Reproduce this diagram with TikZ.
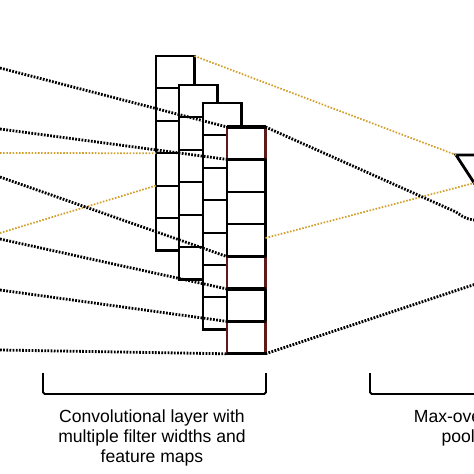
\documentclass[tikz,border=0pt]{standalone}
\usepackage{fontspec}
\setmainfont{Liberation Sans}
\usetikzlibrary{calc}
\definecolor{filtorange}{RGB}{210,160,45}
\definecolor{mapred}{RGB}{95,25,25}
\tikzset{
    cellbox/.style={draw=black, fill=white, line width=1.7pt},
    cellline/.style={black, line width=1.2pt},
    dotline/.style={black, line width=1.6pt, dash pattern=on 1pt off 0.8pt},
    orangeline/.style={filtorange, line width=1pt, dash pattern=on 0.9pt off 0.9pt},
    bracket/.style={black, line width=1.1pt, rounded corners=1pt},
    caption/.style={align=center, font=\fontsize{10}{11.4}\selectfont}
}
\begin{document}
\begin{tikzpicture}[x=0.02cm, y=-0.02cm]
\useasboundingbox (0,0) rectangle (474,474);
\clip (0,0) rectangle (474,474);
\fill[white] (0,0) rectangle (474,474);
\foreach \x/\y/\n/\c in {156/56/6/a, 179/85/6/b, 203/103/7/c, 227/127/7/d}{
    \foreach \k in {0,...,\n}{
        \coordinate (\c-\k) at (\x,{\y+\k*32.4});
        \coordinate (\c-\k-r) at ({\x+38.5},{\y+\k*32.4});
    }
    \draw[cellbox] (\c-0) rectangle (\c-\n-r);
    \foreach \k in {1,...,\n}{
        \draw[cellline] (\c-\k) -- (\c-\k-r);
    }
    \ifx\c a
        \draw[filtorange, line width=1.6pt] (a-3 -| 179,0) -- (a-3) -- (a-4) -- (a-4 -| 179,0);
    \fi
}
\foreach \k/\j in {0/1, 4/5, 6/7}{
    \draw[mapred, line width=1.7pt] (d-\k) -- (d-\j) (d-\k-r) -- (d-\j-r);
    \draw[black, line width=1.9pt] (d-\k) -- (d-\k-r) (d-\j) -- (d-\j-r);
}
% free ends on the left
\foreach \y/\p in {68/in1, 129/in2, 153/in3, 177/in4, 233/in5, 239/in6, 290/in7, 350/in8}{
    \coordinate (\p) at (0,\y);
}
% pooling shape
\coordinate (pool-tl) at (456,155);
\coordinate (pool-tr) at (560,155);
\coordinate (pool-b) at (508,235);
\coordinate (pool-e) at (474,183);
\coordinate (pool-m) at (482,221);
\coordinate (pool-n) at (482,282);
\coordinate (d-mid-r) at (265.5,238);
\draw[line width=1.6pt] (pool-tl) -- (pool-tr) -- (pool-b) -- cycle;
\draw[orangeline] (in3) -- (a-3);
\draw[orangeline] (in5) -- (a-4);
\foreach \p/\k in {in1/0, in2/1, in4/4, in6/5, in7/6, in8/7}{
    \draw[dotline] (\p) -- (d-\k);
}
\draw[orangeline] (a-0-r) -- (pool-tl);
\draw[orangeline] (d-mid-r) -- (pool-e);
\draw[dotline] (d-0-r) -- (456,212) .. controls (466,219) .. (pool-m);
\draw[dotline] (d-7-r) -- (pool-n);
\draw[bracket] (43,373) -- (43,394) -- (266,394) -- (266,373);
\draw[bracket] (370,373) -- (370,394) -- (570,394) -- (570,373);
\node[caption] (convlabel) at (152,438) {Convolutional layer with\\multiple filter widths and\\feature maps};
\node[caption] (poollabel) at (470,428) {Max-over-time\\pooling};
\end{tikzpicture}
\end{document}
